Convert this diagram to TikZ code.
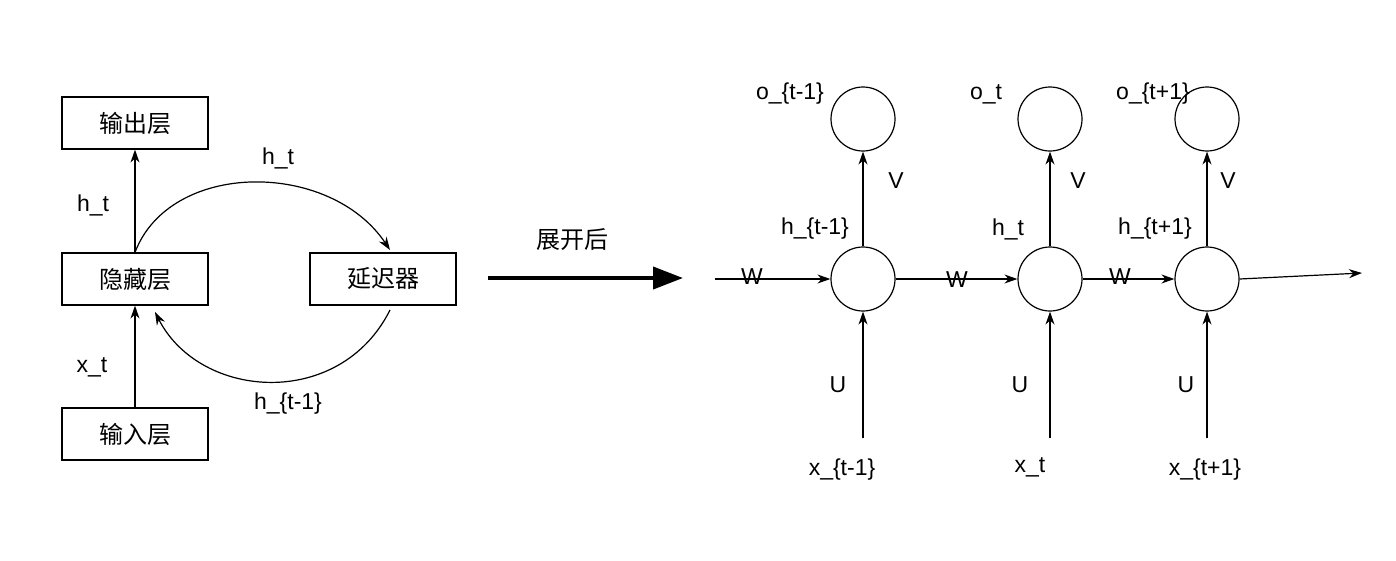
\documentclass[tikz,border=0pt]{standalone}
\usepackage{fontspec}
\setmainfont{Liberation Sans}
\newfontfamily\cjk{Noto Sans CJK SC}
\usetikzlibrary{arrows.meta}
\begin{document}
\begin{tikzpicture}[x=1pt,y=-1pt,
  box/.style={draw,line width=1.2pt,minimum width=146pt,minimum height=52pt,font=\fontsize{24}{28}\cjk},
  cir/.style={draw,circle,line width=1.2pt,minimum size=64pt,inner sep=0},
  lab/.style={font=\fontsize{23}{27}\selectfont},
  ar/.style={line width=1.2pt,-{Stealth[length=13pt,width=9pt]}}]
\useasboundingbox (0,0) rectangle (1396,560);
\node[box] (out) at (135,123) {输出层};
\node[box] (hid) at (135,279) {隐藏层};
\node[box] (del) at (383,279) {延迟器};
\node[box] (in) at (135,434) {输入层};
\draw[ar] (hid.north) -- (out.south);
\draw[ar] (in.north) -- (hid.south);
\node[lab] at (93,205) {h\_t};
\node[lab] at (92,367) {x\_t};
\draw[ar] (hid.north) .. controls (170,160) and (330,160) .. (390,250);
\node[lab] at (278,158) {h\_t};
\draw[ar] (390,310) .. controls (340,410) and (200,400) .. (155,312);
\node[lab] at (288,404) {h\_\{t-1\}};
\coordinate (a1) at (488,278); \coordinate (a2) at (683,278);
\draw[line width=4pt,-{Triangle[length=30pt,width=22pt]}] (a1) -- (a2);
\node[font=\fontsize{24}{28}\cjk] at (572,240) {展开后};
\foreach \i/\x in {1/863,2/1050,3/1207}{
  \node[cir] (h\i) at (\x,279) {};
  \node[cir] (o\i) at (\x,119) {};
  \coordinate (x\i) at (\x,438);
  \draw[ar] (x\i) -- (h\i.south);
  \draw[ar] (h\i.north) -- (o\i.south);
}
\coordinate (w0) at (715,279); \coordinate (w4) at (1362,273);
\draw[ar] (w0) -- (h1.west);
\draw[ar] (h1.east) -- (h2.west);
\draw[ar] (h2.east) -- (h3.west);
\draw[ar] (h3.east) -- (w4);
\node[lab] at (752,277) {W};
\node[lab] at (957,280) {W};
\node[lab] at (1120,277) {W};
\node[lab] at (838,385) {U};
\node[lab] at (1020,385) {U};
\node[lab] at (1186,385) {U};
\node[lab] at (896,181) {V};
\node[lab] at (1078,181) {V};
\node[lab] at (1228,181) {V};
\node[lab] at (842,470) {x\_\{t-1\}};
\node[lab] at (1030,467) {x\_t};
\node[lab] at (1205,470) {x\_\{t+1\}};
\node[lab] at (815,229) {h\_\{t-1\}};
\node[lab] at (1008,229) {h\_t};
\node[lab] at (1155,229) {h\_\{t+1\}};
\node[lab] at (790,94) {o\_\{t-1\}};
\node[lab] at (986,94) {o\_t};
\node[lab] at (1153,94) {o\_\{t+1\}};
\end{tikzpicture}
\end{document}
